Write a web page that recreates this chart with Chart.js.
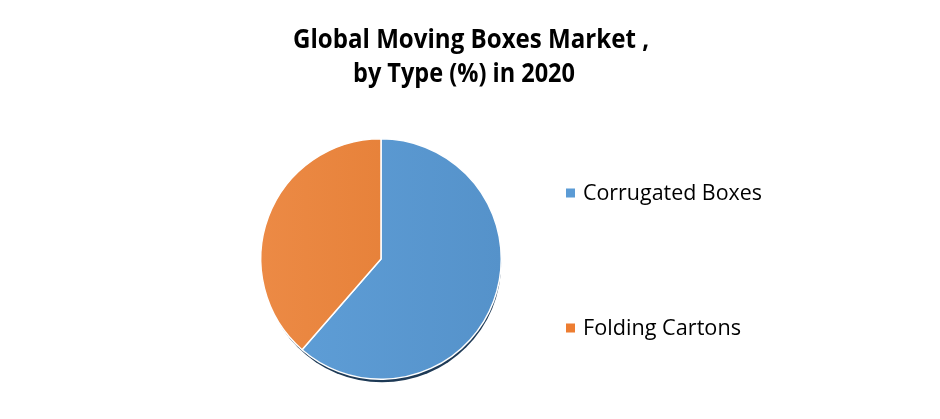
<!DOCTYPE html>
<html>
<head>
<meta charset="utf-8">
<script src="https://cdn.jsdelivr.net/npm/chart.js@4"></script>
<style>
  html, body { margin: 0; padding: 0; background: #fff; }
  #wrap { width: 940px; height: 419px; position: relative; }
</style>
</head>
<body>
<div id="wrap"><canvas id="pieChart"></canvas></div>
<script>
const categories = ['Corrugated Boxes', 'Folding Cartons'];
const shares = [61.4, 38.6];
const colors = ['#5b9bd5', '#ed7d31'];
const titleLines = ['Global Moving Boxes Market ,', 'by Type (%) in 2020'];

// draw text squeezed to a target width (the original uses a narrow font)
function fitText(ctx, text, x, y, targetW, align) {
    const w = ctx.measureText(text).width;
    const sx = Math.min(1, targetW / w);
    ctx.save();
    ctx.translate(x, y);
    ctx.scale(sx, 1);
    ctx.textAlign = align;
    ctx.fillText(text, 0, 0);
    ctx.restore();
}

const decor = {
    id: 'decor',
    beforeDatasetsDraw(chart) {
        const arc = chart.getDatasetMeta(0).data[0];
        if (!arc) return;
        const ctx = chart.ctx;
        ctx.save();
        ctx.fillStyle = '#1e3a56';
        ctx.filter = 'blur(0.6px)';
        ctx.beginPath();
        ctx.arc(arc.x + 1, arc.y + 4, arc.outerRadius - 1, 0, Math.PI * 2);
        ctx.fill();
        ctx.restore();
    },
    afterDraw(chart) {
        const ctx = chart.ctx;
        ctx.save();
        ctx.fillStyle = '#000';
        ctx.textBaseline = 'alphabetic';
        ctx.font = 'bold 27px "Open Sans", sans-serif';
        fitText(ctx, titleLines[0], 471, 48, 356, 'center');
        fitText(ctx, titleLines[1], 464, 82, 222, 'center');

        ctx.font = '22px "Open Sans", sans-serif';
        const ys = [193, 328];
        const widths = [179, 158];
        categories.forEach((c, i) => {
            ctx.fillStyle = colors[i];
            ctx.fillRect(566, ys[i] - 4.5, 9, 9);
            ctx.fillStyle = '#000';
            ctx.textBaseline = 'middle';
            fitText(ctx, c, 583, ys[i] + 1, widths[i], 'left');
        });
        ctx.restore();
    }
};

const ctx = document.getElementById('pieChart').getContext('2d');

function shade(base, light) {
    const g = ctx.createLinearGradient(260, 0, 502, 0);
    g.addColorStop(0, light);
    g.addColorStop(1, base);
    return g;
}

new Chart(ctx, {
    type: 'pie',
    data: {
        labels: categories,
        datasets: [{
            data: shares,
            backgroundColor: [shade('#5592ca', '#5f9fd8'), shade('#e27a30', '#ec8a45')],
            borderColor: '#ffffff',
            borderWidth: 1.5
        }]
    },
    options: {
        responsive: true,
        maintainAspectRatio: false,
        animation: false,
        layout: { padding: { left: 258, right: 436, top: 138, bottom: 39 } },
        plugins: {
            legend: { display: false },
            title: { display: false },
            tooltip: { enabled: false }
        }
    },
    plugins: [decor]
});
</script>
</body>
</html>
